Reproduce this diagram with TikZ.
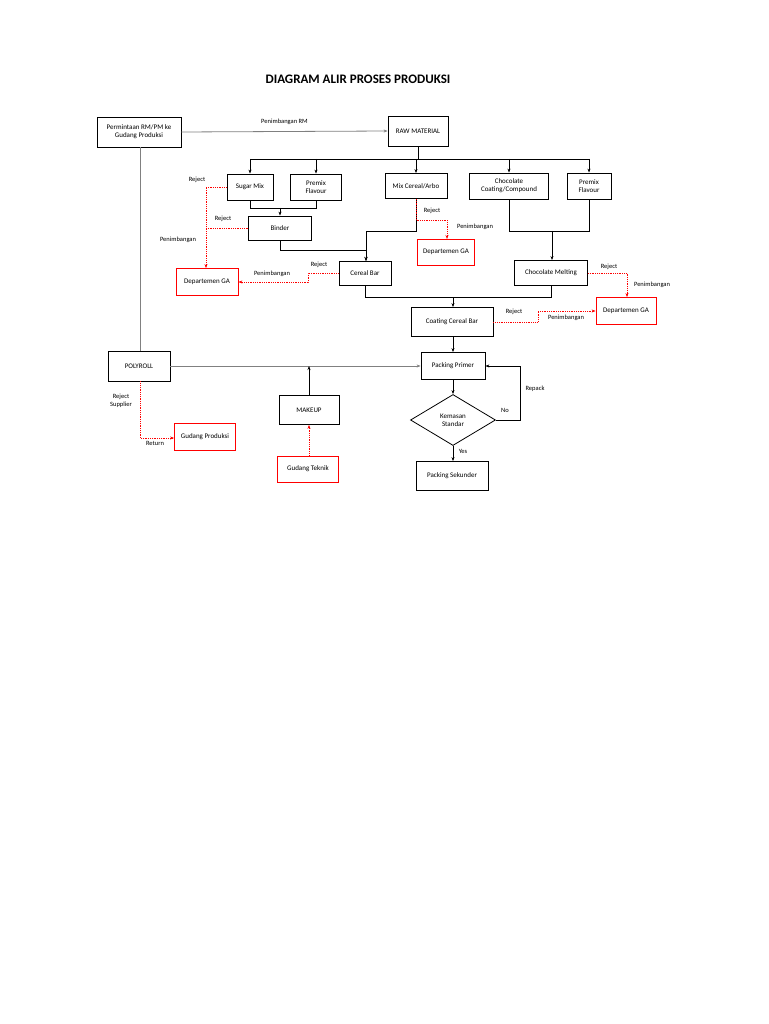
\documentclass[tikz,border=0pt]{standalone}
\usepackage{fontspec}
\setmainfont{Carlito}
\usetikzlibrary{arrows.meta,shapes.geometric}
\begin{document}
\begin{tikzpicture}[x=1pt,y=-1pt,
  every node/.style={font=\fontsize{7}{8}\selectfont,align=center},
  bx/.style={draw,thick,inner sep=0},
  rbx/.style={draw=red,thick,inner sep=0},
  lbl/.style={font=\fontsize{6.5}{7.5}\selectfont},
  ln/.style={draw,thick},
  ar/.style={draw,thick,-{Stealth[length=4pt,width=3pt]}},
  gar/.style={draw=gray,thick,-{Stealth[length=4pt,width=3pt]}},
  rar/.style={draw=red,thick,densely dotted,-{Stealth[length=4pt,width=3pt]}},
  rln/.style={draw=red,thick,densely dotted}]
\useasboundingbox (0,0) rectangle (768,1024);
\node[font=\bfseries\fontsize{13}{15}\selectfont] (title) at (358,79) {DIAGRAM ALIR PROSES PRODUKSI};
\node[bx,minimum width=84,minimum height=30] (perm) at (139,132) {Permintaan RM/PM ke\\Gudang Produksi};
\node[bx,minimum width=60,minimum height=30] (raw) at (418,131) {RAW MATERIAL};
\node[bx,minimum width=46,minimum height=26] (sugar) at (250,187) {Sugar Mix};
\node[bx,minimum width=51,minimum height=26] (pf1) at (316,187) {Premix\\Flavour};
\node[bx,minimum width=62,minimum height=25] (mix) at (416,186) {Mix Cereal/Arbo};
\node[bx,minimum width=79,minimum height=26] (choc) at (509,186) {Chocolate\\Coating/Compound};
\node[bx,minimum width=44,minimum height=26] (pf2) at (589,186) {Premix\\Flavour};
\node[bx,minimum width=63,minimum height=24] (binder) at (280,228) {Binder};
\node[bx,minimum width=52,minimum height=24] (cereal) at (365,273) {Cereal Bar};
\node[rbx,minimum width=62,minimum height=27] (ga1) at (207,282) {Departemen GA};
\node[rbx,minimum width=57,minimum height=26] (ga2) at (446,252) {Departemen GA};
\node[bx,minimum width=73,minimum height=25] (melt) at (551,273) {Chocolate Melting};
\node[bx,minimum width=82,minimum height=29] (coat) at (452,322) {Coating Cereal Bar};
\node[rbx,minimum width=60,minimum height=27] (ga3) at (626,311) {Departemen GA};
\node[bx,minimum width=62,minimum height=30] (poly) at (139,366) {POLYROLL};
\node[bx,minimum width=60,minimum height=29] (makeup) at (309,410) {MAKEUP};
\node[rbx,minimum width=61,minimum height=26] (gtek) at (308,469) {Gudang Teknik};
\node[rbx,minimum width=61,minimum height=27] (gprod) at (205,437) {Gudang Produksi};
\node[bx,minimum width=64,minimum height=27] (pprim) at (453,366) {Packing Primer};
\node[draw,thick,diamond,aspect=1.67,minimum width=85,minimum height=51,inner sep=0] (dia) at (453,420) {Kemasan\\Standar};
\node[bx,minimum width=72,minimum height=29] (psek) at (452,476) {Packing Sekunder};
% coordinates
\coordinate (bus) at (418,159);
\draw[gar] (perm.east) -- node[lbl,above=3pt,text=black]{Penimbangan RM} (raw.west);
\draw[ln] (raw.south) -- (bus);
\draw[ln] (250,159) -- (589,159);
\draw[ar] (250,159) -- (sugar.north);
\draw[ar] (316,159) -- (pf1.north);
\draw[ar] (416,159) -- (mix.north);
\draw[ar] (509,159) -- (choc.north);
\draw[ar] (589,159) -- (pf2.north);
\draw[ln] (sugar.south) -- (250,208) -- (316,208) -- (pf1.south);
\draw[ar] (280,208) -- (binder.north);
\draw[ar] (mix.south) -- (416,231) -- (366,231) -- (366,261);
\draw[ar] (binder.south) -- (280,250) -- (366,250) -- (366,261);
\draw[rar] (sugar.west) -- (206,187) -- (ga1.north -| 206,0);
\draw[rln] (binder.west) -- (206,228);
\node[lbl] (l1) at (197,180) {Reject};
\node[lbl] (l2) at (223,219) {Reject};
\node[lbl] (l3) at (178,240) {Penimbangan};
\draw[rar] (cereal.west) -- (308,273) -- (308,282) -- (ga1.east);
\node[lbl] (l4) at (319,265) {Reject};
\node[lbl] (l5) at (272,274) {Penimbangan};
\draw[rar] (416,199) -- (416,220) -- (447,220) -- (447,239);
\node[lbl] (l6) at (432,211) {Reject};
\node[lbl] (l7) at (475,227) {Penimbangan};
\draw[ln] (choc.south) -- (509,231) -- (589,231) -- (pf2.south);
\draw[ar] (552,231) -- (melt.north -| 552,0);
\draw[ln] (cereal.south) -- (365,297) -- (551,297) -- (melt.south);
\draw[ar] (453,297) -- (coat.north -| 453,0);
\draw[rar] (melt.east) -- (627,273) -- (ga3.north -| 627,0);
\node[lbl] (l8) at (609,267) {Reject};
\node[lbl] (l9) at (652,285) {Penimbangan};
\draw[rar] (coat.east) -- (538,322) -- (538,311) -- (ga3.west);
\node[lbl] (l10) at (514,312) {Reject};
\node[lbl] (l11) at (566,318) {Penimbangan};
\draw[draw=gray,thick] (perm.south -| 140,0) -- (140,351);
\draw[gar] (poly.east) -- (pprim.west);
\draw[ar] (makeup.north) -- (309,366);
\draw[rar] (gtek.north -| 309,0) -- (makeup.south);
\draw[rar] (poly.south -| 140,0) -- (140,438) -- (gprod.west |- 0,438);
\node[lbl] (l12) at (121,401) {Reject\\Supplier};
\node[lbl] (l13) at (155,443) {Return};
\draw[ar] (coat.south -| 453,0) -- (pprim.north);
\draw[ar] (pprim.south) -- (dia.north);
\draw[ar] (dia.east) -- (520,420) -- (520,366) -- (pprim.east);
\node[lbl] (l14) at (505,410) {No};
\node[lbl] (l15) at (535,389) {Repack};
\draw[ar] (dia.south) -- (psek.north -| 453,0);
\node[lbl] (l16) at (463,451) {Yes};
\end{tikzpicture}
\end{document}
